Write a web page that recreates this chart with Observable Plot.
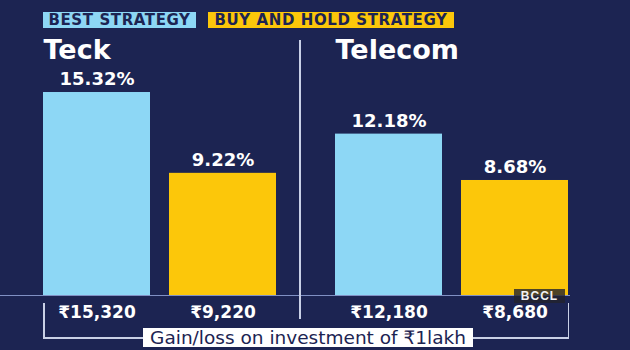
<!DOCTYPE html>
<html>
<head>
<meta charset="utf-8">
<script src="https://cdn.jsdelivr.net/npm/d3@7"></script>
<script src="https://cdn.jsdelivr.net/npm/@observablehq/plot@0.6"></script>
<style>
  html, body { margin: 0; padding: 0; background: #1c2452; }
  #wrap { position: relative; width: 630px; height: 350px; background: #1c2452; overflow: hidden; font-family: "DejaVu Sans", "Noto Sans", sans-serif; }
  #wrap svg { position: absolute; left: 0; top: 0; }
  .legend { position: absolute; top: 12px; height: 16px; line-height: 16px; font-size: 15px; font-weight: bold; color: #1c2452; text-align: center; letter-spacing: 0.6px; white-space: nowrap; }
  .line { position: absolute; background: #c9d0e6; }
  #caption { position: absolute; left: 143px; top: 328px; width: 330px; height: 19px; line-height: 19px; background: #ffffff; color: #1c2452; font-size: 18.5px; text-align: center; white-space: nowrap; }
  #bccl { position: absolute; left: 514px; top: 289px; width: 51px; height: 14px; line-height: 14px; background: rgba(35,35,45,0.8); color: #f2f2f2; font-family: "Liberation Sans", Arial, sans-serif; font-weight: bold; font-size: 12px; letter-spacing: 1px; text-align: center; z-index: 3; }
</style>
</head>
<body>
<div id="wrap">
  <div id="plot"></div>
</div>
<script>
// ---- data ----
const sectors = ["Teck", "Telecom"];
const strategies = ["BEST STRATEGY", "BUY AND HOLD STRATEGY"];
const bestReturnPct = [15.32, 12.18];
const holdReturnPct = [9.22, 8.68];
const bestGain = [15320, 12180];
const holdGain = [9220, 8680];
const captionText = "Gain/loss on investment of ₹1lakh";
const colors = ["#8dd7f5", "#fcc70a"];

const data = [];
sectors.forEach((s, i) => {
  data.push({sector: s, strategy: strategies[0], pct: bestReturnPct[i], gain: bestGain[i]});
  data.push({sector: s, strategy: strategies[1], pct: holdReturnPct[i], gain: holdGain[i]});
});

const fmt = d3.format(",");
const chart = Plot.plot({
  width: 630,
  height: 350,
  marginLeft: 43,
  marginRight: 60,
  marginTop: 0,
  marginBottom: 0,
  style: {background: "transparent", overflow: "visible", fontFamily: "'DejaVu Sans', 'Noto Sans', sans-serif"},
  facet: {data: data, x: "sector", marginTop: 0, marginBottom: 0},
  fx: {domain: sectors, paddingInner: 58 / 293, paddingOuter: 0, axis: null},
  x: {domain: strategies, paddingInner: 0.15, paddingOuter: 0, axis: null},
  y: {domain: [0, 20], range: [295, 30], axis: null},
  color: {domain: strategies, range: colors},
  marks: [
    Plot.barY(data, {x: "strategy", y: "pct", fill: "strategy"}),
    Plot.text(data, {x: "strategy", y: "pct", text: d => d.pct.toFixed(2) + "%", dy: -13, fill: "#ffffff", fontSize: 18, fontWeight: "bold"}),
    Plot.text(data, {x: "strategy", y: () => 0, text: d => "₹" + fmt(d.gain), dy: 17, fill: "#ffffff", fontSize: 17, fontWeight: "bold"}),
    Plot.text(data, {filter: d => d.strategy === strategies[0], text: "sector", frameAnchor: "top-left", textAnchor: "start", dx: 0, dy: 39, fill: "#ffffff", fontSize: 27, fontWeight: "bold"})
  ]
});
document.getElementById("plot").appendChild(chart);

const wrap = document.getElementById("wrap");
function add(html) { wrap.insertAdjacentHTML("beforeend", html); }
// legend
add(`<div class="legend" style="left:43px;width:153px;background:${colors[0]}">${strategies[0]}</div>`);
add(`<div class="legend" style="left:208px;width:246px;background:${colors[1]}">${strategies[1]}</div>`);
// baseline + divider
add(`<div class="line" style="left:0;top:295px;width:570px;height:1px;background:#8090c4"></div>`);
add(`<div class="line" style="left:299px;top:40px;width:2px;height:279px"></div>`);
// bracket
add(`<div class="line" style="left:43px;top:303px;width:1.5px;height:35px"></div>`);
add(`<div class="line" style="left:43px;top:337px;width:100px;height:1.5px"></div>`);
add(`<div class="line" style="left:473px;top:337px;width:96px;height:1.5px"></div>`);
add(`<div class="line" style="left:567.5px;top:303px;width:1.5px;height:35px"></div>`);
add(`<div id="caption">${captionText}</div>`);
add(`<div id="bccl">BCCL</div>`);
</script>
</body>
</html>
